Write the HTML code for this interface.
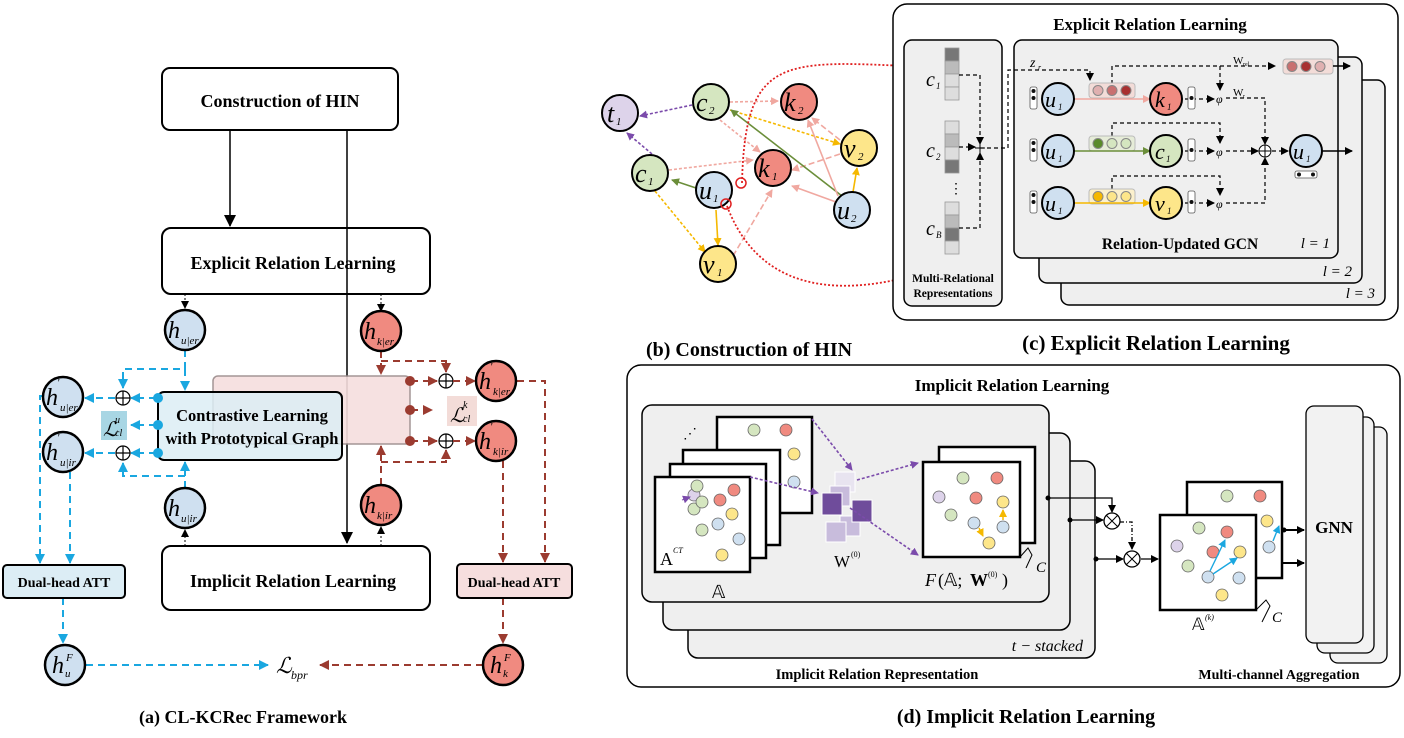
<!DOCTYPE html>
<html><head><meta charset="utf-8"><style>
html,body{margin:0;padding:0;background:#fff}
svg{display:block}
text{font-family:"Liberation Serif",serif}
.b{font-weight:bold}
.m{font-style:italic}
</style></head><body>
<svg width="1404" height="738" viewBox="0 0 1404 738" xmlns="http://www.w3.org/2000/svg">
<defs>
<marker id="ak" markerWidth="8" markerHeight="8" refX="7" refY="4" orient="auto" markerUnits="userSpaceOnUse"><path d="M0,0 L8,4 L0,8 z" fill="#000"/></marker>
<marker id="akl" markerWidth="12" markerHeight="12" refX="11" refY="6" orient="auto" markerUnits="userSpaceOnUse"><path d="M0,0 L12,6 L0,12 z" fill="#000"/></marker>
<marker id="ab" markerWidth="10" markerHeight="10" refX="9" refY="5" orient="auto" markerUnits="userSpaceOnUse"><path d="M0,0 L10,5 L0,10 z" fill="#1aa7e0"/></marker>
<marker id="ar" markerWidth="10" markerHeight="10" refX="9" refY="5" orient="auto" markerUnits="userSpaceOnUse"><path d="M0,0 L10,5 L0,10 z" fill="#9b3b30"/></marker>
<marker id="ap" markerWidth="8" markerHeight="8" refX="7" refY="4" orient="auto" markerUnits="userSpaceOnUse"><path d="M0,0 L8,4 L0,8 z" fill="#7b4bab"/></marker>
<marker id="apk" markerWidth="8" markerHeight="8" refX="7" refY="4" orient="auto" markerUnits="userSpaceOnUse"><path d="M0,0 L8,4 L0,8 z" fill="#f0a8a0"/></marker>
<marker id="ay" markerWidth="8" markerHeight="8" refX="7" refY="4" orient="auto" markerUnits="userSpaceOnUse"><path d="M0,0 L8,4 L0,8 z" fill="#f5b800"/></marker>
<marker id="ag" markerWidth="8" markerHeight="8" refX="7" refY="4" orient="auto" markerUnits="userSpaceOnUse"><path d="M0,0 L8,4 L0,8 z" fill="#6b8e3a"/></marker>
<marker id="acy" markerWidth="8" markerHeight="8" refX="7" refY="4" orient="auto" markerUnits="userSpaceOnUse"><path d="M0,0 L8,4 L0,8 z" fill="#1aa7e0"/></marker>
</defs>

<!-- ============ Panel (a) ============ -->
<line x1="347" y1="130" x2="347" y2="543" stroke="#000" stroke-width="1.5" marker-end="url(#akl)"/>
<line x1="230" y1="130" x2="230" y2="226" stroke="#000" stroke-width="1.5" marker-end="url(#akl)"/>
<rect x="162" y="68" width="236" height="62" rx="8" fill="#fff" stroke="#000" stroke-width="2"/>
<text x="280" y="107" text-anchor="middle" class="b" font-size="18">Construction of HIN</text>
<rect x="162" y="228" width="268" height="66" rx="9" fill="none" stroke="#000" stroke-width="2"/>
<text x="293" y="269" text-anchor="middle" class="b" font-size="18">Explicit Relation Learning</text>
<rect x="162" y="546" width="268" height="64" rx="9" fill="none" stroke="#000" stroke-width="2"/>
<text x="293" y="587" text-anchor="middle" class="b" font-size="18">Implicit Relation Learning</text>

<line x1="185" y1="294" x2="185" y2="308" stroke="#000" stroke-dasharray="2,2" marker-end="url(#ak)"/>
<line x1="381" y1="294" x2="381" y2="311" stroke="#000" stroke-dasharray="2,2" marker-end="url(#ak)"/>
<line x1="185" y1="546" x2="185" y2="530" stroke="#000" stroke-dasharray="2,2" marker-end="url(#ak)"/>
<line x1="381" y1="546" x2="381" y2="527" stroke="#000" stroke-dasharray="2,2" marker-end="url(#ak)"/>

<rect x="213" y="376" width="197" height="68" rx="5" fill="#f6dede" stroke="#9a8a8a" stroke-width="1.5" opacity="0.9"/>
<rect x="158" y="392" width="184" height="68" rx="6" fill="#dcedf5" fill-opacity="0.85" stroke="#000" stroke-width="2"/>
<text x="252" y="421" text-anchor="middle" class="b" font-size="16.5">Contrastive Learning</text>
<text x="252" y="444" text-anchor="middle" class="b" font-size="16.5">with Prototypical Graph</text>

<g stroke="#1aa7e0" stroke-width="2" fill="none" stroke-dasharray="7,5">
<path d="M185,350 V369 H123 V388" marker-end="url(#ab)"/>
<path d="M185,369 V390" marker-end="url(#ab)"/>
<path d="M185,488 V462" marker-end="url(#ab)"/>
<path d="M185,476 H123 V463" marker-end="url(#ab)"/>
<path d="M156,398 H131" marker-end="url(#ab)"/>
<path d="M156,425 H131" marker-end="url(#ab)"/>
<path d="M156,453 H131" marker-end="url(#ab)"/>
<path d="M115,398 H85" marker-end="url(#ab)"/>
<path d="M115,453 H85" marker-end="url(#ab)"/>
<path d="M43,396 H40 V563" marker-end="url(#ab)"/>
<path d="M70,472 V563" marker-end="url(#ab)"/>
<path d="M63,598 V643" marker-end="url(#ab)"/>
<path d="M86,665 H268" marker-end="url(#ab)"/>
</g>
<g fill="#1aa7e0"><circle cx="158" cy="398" r="5"/><circle cx="158" cy="425" r="5"/><circle cx="158" cy="453" r="5"/></g>
<g fill="#fff" stroke="#000" stroke-width="1.2">
<circle cx="123" cy="398" r="7"/><circle cx="123" cy="453" r="7"/>
<circle cx="446" cy="381" r="7"/><circle cx="446" cy="441" r="7"/></g>
<g stroke="#000" stroke-width="1.2">
<path d="M116,398H130M123,391V405M116,453H130M123,446V460M439,381H453M446,374V388M439,441H453M446,434V448"/></g>
<rect x="101" y="411" width="26" height="29" fill="#a8d6e4"/>
<text x="103" y="436" class="m" font-size="20">ℒ</text><text x="115" y="423" class="m" font-size="10">u</text><text x="115" y="436" class="m" font-size="10">cl</text>

<g stroke="#9b3b30" stroke-width="2" fill="none" stroke-dasharray="7,5">
<path d="M381,351 V374" marker-end="url(#ar)"/>
<path d="M381,361 H446 V372" marker-end="url(#ar)"/>
<path d="M381,485 V446" marker-end="url(#ar)"/>
<path d="M381,462 H446 V450" marker-end="url(#ar)"/>
<path d="M411,381 H437" marker-end="url(#ar)"/>
<path d="M411,410 H432" marker-end="url(#ar)"/>
<path d="M411,441 H437" marker-end="url(#ar)"/>
<path d="M453,381 H475" marker-end="url(#ar)"/>
<path d="M453,441 H475" marker-end="url(#ar)"/>
<path d="M517,381 H545 V562" marker-end="url(#ar)"/>
<path d="M503,461 V562" marker-end="url(#ar)"/>
<path d="M503,598 V643" marker-end="url(#ar)"/>
<path d="M483,665 H320" marker-end="url(#ar)"/>
</g>
<g fill="#9b3b30"><circle cx="410" cy="381" r="5"/><circle cx="410" cy="410" r="5"/><circle cx="410" cy="441" r="5"/></g>
<rect x="447" y="396" width="30" height="30" fill="#f3dcd8"/>
<text x="450" y="422" class="m" font-size="20">ℒ</text><text x="463" y="408" class="m" font-size="10">k</text><text x="463" y="422" class="m" font-size="10">cl</text>

<g stroke="#000" stroke-width="2.5">
<circle cx="185" cy="330" r="20" fill="#cfe0f0"/>
<circle cx="381" cy="331" r="20" fill="#f08a80"/>
<circle cx="63" cy="397" r="20" fill="#cfe0f0"/>
<circle cx="63" cy="452" r="20" fill="#cfe0f0"/>
<circle cx="185" cy="508" r="20" fill="#cfe0f0"/>
<circle cx="381" cy="505" r="20" fill="#f08a80"/>
<circle cx="496" cy="381" r="20" fill="#f08a80"/>
<circle cx="496" cy="441" r="20" fill="#f08a80"/>
<circle cx="65" cy="665" r="20" fill="#cfe0f0"/>
<circle cx="503" cy="665" r="20" fill="#f08a80"/>
</g>
<g class="m" font-size="24">
<text x="168" y="338">h</text><text x="181" y="344" font-size="11">u|er</text>
<text x="364" y="339">h</text><text x="377" y="345" font-size="11">k|er</text>
<text x="46" y="405">h</text><text x="57" y="386" font-size="11">'</text><text x="60" y="411" font-size="11">u|er</text>
<text x="46" y="460">h</text><text x="57" y="441" font-size="11">'</text><text x="60" y="466" font-size="11">u|ir</text>
<text x="168" y="516">h</text><text x="181" y="522" font-size="11">u|ir</text>
<text x="364" y="513">h</text><text x="377" y="519" font-size="11">k|ir</text>
<text x="479" y="389">h</text><text x="490" y="370" font-size="11">'</text><text x="493" y="395" font-size="11">k|er</text>
<text x="479" y="449">h</text><text x="490" y="430" font-size="11">'</text><text x="493" y="455" font-size="11">k|ir</text>
<text x="52" y="673">h</text><text x="66" y="661" font-size="11">F</text><text x="65" y="677" font-size="11">u</text>
<text x="490" y="673">h</text><text x="504" y="661" font-size="11">F</text><text x="503" y="677" font-size="11">k</text>
</g>
<text x="276" y="673" class="m" font-size="22">ℒ</text><text x="291" y="679" class="m" font-size="12">bpr</text>

<rect x="3" y="565" width="122" height="33" rx="4" fill="#dcedf5" stroke="#000" stroke-width="2"/>
<text x="64" y="587" text-anchor="middle" class="b" font-size="14">Dual-head ATT</text>
<rect x="457" y="564" width="115" height="34" rx="4" fill="#f6dede" stroke="#000" stroke-width="2"/>
<text x="514" y="587" text-anchor="middle" class="b" font-size="14">Dual-head ATT</text>
<text x="243" y="723" text-anchor="middle" class="b" font-size="18">(a) CL-KCRec Framework</text>

<!-- ============ Panel (b) ============ -->
<g fill="none" stroke-width="1.6">
<path d="M692,105 L640,116" stroke="#7b4bab" stroke-dasharray="3,2" marker-end="url(#ap)"/>
<path d="M652,154 L627,133" stroke="#7b4bab" stroke-dasharray="3,2" marker-end="url(#ap)"/>
<path d="M730,102 L778,101" stroke="#f0a8a0" stroke-dasharray="3,2" marker-end="url(#apk)"/>
<path d="M730,110 L840,144" stroke="#f5b800" stroke-dasharray="3,2" marker-end="url(#ay)"/>
<path d="M720,120 L760,152" stroke="#f0a8a0" stroke-dasharray="3,2" marker-end="url(#apk)"/>
<path d="M669,170 L753,160" stroke="#f0a8a0" stroke-dasharray="3,2" marker-end="url(#apk)"/>
<path d="M655,191 L705,252" stroke="#f5b800" stroke-dasharray="3,2" marker-end="url(#ay)"/>
<path d="M840,140 L812,118" stroke="#f0a8a0" stroke-dasharray="6,3" marker-end="url(#apk)"/>
<path d="M840,154 L792,170" stroke="#f0a8a0" stroke-dasharray="6,3" marker-end="url(#apk)"/>
<path d="M733,256 L772,190" stroke="#f0a8a0" stroke-dasharray="6,3" marker-end="url(#apk)"/>
<path d="M842,196 L731,110" stroke="#6b8e3a" marker-end="url(#ag)"/>
<path d="M696,188 L672,180" stroke="#6b8e3a" marker-end="url(#ag)"/>
<path d="M836,202 L792,186" stroke="#f0a8a0" marker-end="url(#apk)"/>
<path d="M838,196 L808,120" stroke="#f0a8a0" marker-end="url(#apk)"/>
<path d="M853,192 L857,168" stroke="#f5b800" marker-end="url(#ay)"/>
<path d="M716,210 L718,245" stroke="#f5b800" marker-end="url(#ay)"/>
</g>
<g stroke="#000" stroke-width="2">
<circle cx="620" cy="113" r="18" fill="#ddd3ea"/>
<circle cx="711" cy="102" r="18" fill="#d5e6c0"/>
<circle cx="799" cy="102" r="18" fill="#f08a80"/>
<circle cx="859" cy="148" r="18" fill="#fde68a"/>
<circle cx="773" cy="168" r="18" fill="#f08a80"/>
<circle cx="650" cy="173" r="18" fill="#d5e6c0"/>
<circle cx="714" cy="190" r="18" fill="#cfe0f0"/>
<circle cx="852" cy="210" r="18" fill="#cfe0f0"/>
<circle cx="718" cy="264" r="18" fill="#fde68a"/>
</g>
<g class="m" font-size="26">
<text x="607" y="122">t</text><text x="616" y="125" font-size="11">1</text>
<text x="696" y="111">c</text><text x="709" y="114" font-size="11">2</text>
<text x="784" y="111">k</text><text x="798" y="114" font-size="11">2</text>
<text x="844" y="157">v</text><text x="858" y="160" font-size="11">2</text>
<text x="758" y="177">k</text><text x="772" y="180" font-size="11">1</text>
<text x="635" y="182">c</text><text x="648" y="185" font-size="11">1</text>
<text x="699" y="199">u</text><text x="713" y="202" font-size="11">1</text>
<text x="837" y="219">u</text><text x="851" y="222" font-size="11">2</text>
<text x="703" y="273">v</text><text x="717" y="276" font-size="11">1</text>
</g>
<g fill="none" stroke="#e02020" stroke-width="1.8" stroke-dasharray="2,2">
<path d="M742,183 C745,60 780,60 905,66"/>
<path d="M727,206 C770,320 900,300 1042,220"/>
</g>
<circle cx="741" cy="183" r="5" fill="none" stroke="#e02020" stroke-width="1.5"/>
<circle cx="726" cy="204" r="5" fill="none" stroke="#e02020" stroke-width="1.5"/>
<text x="749" y="356" text-anchor="middle" class="b" font-size="20">(b) Construction of HIN</text>

<!-- ============ Panel (c) ============ -->
<rect x="893" y="4" width="505" height="316" rx="14" fill="#fff" stroke="#000" stroke-width="1.5"/>
<text x="1150" y="30" text-anchor="middle" class="b" font-size="17">Explicit Relation Learning</text>
<rect x="904" y="40" width="98" height="266" rx="8" fill="#efefef" stroke="#000" stroke-width="1.5"/>
<rect x="1061" y="80" width="324" height="225" rx="8" fill="#efefef" stroke="#000" stroke-width="1.5"/>
<rect x="1039" y="57" width="323" height="226" rx="8" fill="#efefef" stroke="#000" stroke-width="1.5"/>
<rect x="1014" y="40" width="324" height="218" rx="8" fill="#efefef" stroke="#000" stroke-width="1.5"/>
<text x="1375" y="298" text-anchor="end" class="m" font-size="15">l = 3</text>
<text x="1352" y="276" text-anchor="end" class="m" font-size="15">l = 2</text>
<text x="1330" y="248" text-anchor="end" class="m" font-size="15">l = 1</text>
<text x="1180" y="249" text-anchor="middle" class="b" font-size="15.5">Relation-Updated GCN</text>
<text x="953" y="282" text-anchor="middle" class="b" font-size="11.5">Multi-Relational</text>
<text x="953" y="297" text-anchor="middle" class="b" font-size="11.5">Representations</text>
<g stroke="#999" stroke-width="0.8">
<rect x="945" y="48" width="14" height="13" fill="#777"/><rect x="945" y="61" width="14" height="13" fill="#bbb"/><rect x="945" y="74" width="14" height="13" fill="#ddd"/><rect x="945" y="87" width="14" height="13" fill="#ddd"/>
<rect x="945" y="121" width="14" height="13" fill="#ddd"/><rect x="945" y="134" width="14" height="13" fill="#bbb"/><rect x="945" y="147" width="14" height="13" fill="#ddd"/><rect x="945" y="160" width="14" height="13" fill="#777"/>
<rect x="945" y="202" width="14" height="13" fill="#ddd"/><rect x="945" y="215" width="14" height="13" fill="#bbb"/><rect x="945" y="228" width="14" height="13" fill="#777"/><rect x="945" y="241" width="14" height="13" fill="#ddd"/>
</g>
<g class="m" font-size="20"><text x="926" y="86">c</text><text x="936" y="89" font-size="9">1</text>
<text x="926" y="157">c</text><text x="936" y="160" font-size="9">2</text>
<text x="926" y="235">c</text><text x="936" y="238" font-size="9">B</text></g>
<text x="949" y="193" font-size="14">⋮</text>
<g fill="none" stroke="#000" stroke-width="1.2" stroke-dasharray="4,3">
<path d="M959,75 H980 V144" marker-end="url(#ak)"/>
<path d="M959,228 H980 V153" marker-end="url(#ak)"/>
<path d="M959,147 H975" marker-end="url(#ak)"/>
<path d="M980,148 H1008 V70 H1090 V80" marker-end="url(#ak)"/>
<path d="M1112,84 V66 H1275" marker-end="url(#ak)"/>
<path d="M1220,66 V90" marker-end="url(#ak)"/>
<path d="M1112,136 V123 H1220 V143" marker-end="url(#ak)"/>
<path d="M1112,189 V176 H1220 V195" marker-end="url(#ak)"/>
<path d="M1185,99 H1214" marker-end="url(#ak)"/>
<path d="M1185,151 H1214" marker-end="url(#ak)"/>
<path d="M1185,203 H1214" marker-end="url(#ak)"/>
<path d="M1226,98 H1265 V144" marker-end="url(#ak)"/>
<path d="M1226,151 H1258" marker-end="url(#ak)"/>
<path d="M1226,203 H1265 V158" marker-end="url(#ak)"/>
<path d="M1272,151 H1288" marker-end="url(#ak)"/>
</g>
<line x1="975" y1="148" x2="985" y2="148" stroke="#000"/><line x1="980" y1="143" x2="980" y2="153" stroke="#000"/>
<text x="1030" y="67" class="m" font-size="14">z</text><text x="1038" y="70" class="m" font-size="8">r</text>
<text x="1233" y="64" font-size="11">W</text><text x="1243" y="66" font-size="6">rel</text>
<text x="1233" y="96" font-size="11">W</text><text x="1243" y="98" font-size="6">r</text>
<circle cx="1265" cy="151" r="6" fill="#fff" stroke="#000"/><path d="M1259,151H1271M1265,145V157" stroke="#000"/>
<g class="m" font-size="12"><text x="1216" y="103">φ</text><text x="1216" y="156">φ</text><text x="1216" y="208">φ</text></g>
<rect x="1089" y="83" width="46" height="15" rx="3" fill="#f3dcd8" stroke="#bbb"/>
<circle cx="1098" cy="90.5" r="5" fill="#e0b0b0" stroke="#888"/><circle cx="1112" cy="90.5" r="5" fill="#c97070" stroke="#888"/><circle cx="1126" cy="90.5" r="5" fill="#a83030" stroke="#888"/>
<rect x="1089" y="136" width="46" height="15" rx="3" fill="#e6ecd8" stroke="#bbb"/>
<circle cx="1098" cy="143.5" r="5" fill="#5a8a2a" stroke="#888"/><circle cx="1112" cy="143.5" r="5" fill="#d5e6c0" stroke="#888"/><circle cx="1126" cy="143.5" r="5" fill="#d5e6c0" stroke="#888"/>
<rect x="1089" y="189" width="46" height="15" rx="3" fill="#fbf0cc" stroke="#bbb"/>
<circle cx="1098" cy="196.5" r="5" fill="#f5b800" stroke="#888"/><circle cx="1112" cy="196.5" r="5" fill="#fde68a" stroke="#888"/><circle cx="1126" cy="196.5" r="5" fill="#fde68a" stroke="#888"/>
<rect x="1283" y="59" width="50" height="15" rx="3" fill="#f3dcd8" stroke="#bbb"/>
<circle cx="1292" cy="66.5" r="5" fill="#c97070" stroke="#888"/><circle cx="1306" cy="66.5" r="5" fill="#a83030" stroke="#888"/><circle cx="1320" cy="66.5" r="5" fill="#e0b0b0" stroke="#888"/>
<line x1="1333" y1="66" x2="1350" y2="66" stroke="#000" stroke-width="1.5" marker-end="url(#ak)"/>
<line x1="1322" y1="151" x2="1352" y2="151" stroke="#000" stroke-width="1.5" marker-end="url(#ak)"/>
<g stroke="#000" stroke-width="1.5"><line x1="1074" y1="99" x2="1150" y2="99" stroke="#f0a8a0" marker-end="url(#apk)"/>
<line x1="1074" y1="151" x2="1150" y2="151" stroke="#6b8e3a" marker-end="url(#ag)"/>
<line x1="1074" y1="203" x2="1150" y2="203" stroke="#f5b800" marker-end="url(#ay)"/></g>
<g stroke="#000" stroke-width="2">
<circle cx="1058" cy="99" r="16" fill="#cfe0f0"/><circle cx="1058" cy="151" r="16" fill="#cfe0f0"/><circle cx="1058" cy="203" r="16" fill="#cfe0f0"/>
<circle cx="1166" cy="99" r="16" fill="#f08a80"/><circle cx="1166" cy="151" r="16" fill="#d5e6c0"/><circle cx="1166" cy="203" r="16" fill="#fde68a"/>
<circle cx="1306" cy="151" r="16" fill="#cfe0f0"/></g>
<g class="m" font-size="22">
<text x="1045" y="107">u</text><text x="1058" y="110" font-size="9">1</text>
<text x="1045" y="159">u</text><text x="1058" y="162" font-size="9">1</text>
<text x="1045" y="211">u</text><text x="1058" y="214" font-size="9">1</text>
<text x="1155" y="107">k</text><text x="1167" y="110" font-size="9">1</text>
<text x="1155" y="159">c</text><text x="1166" y="162" font-size="9">1</text>
<text x="1155" y="211">v</text><text x="1167" y="214" font-size="9">1</text>
<text x="1293" y="159">u</text><text x="1306" y="162" font-size="9">1</text></g>
<g fill="#fff" stroke="#555" stroke-width="0.8">
<rect x="1030" y="87" width="7" height="22" rx="2"/><rect x="1030" y="139" width="7" height="22" rx="2"/><rect x="1030" y="191" width="7" height="22" rx="2"/>
<rect x="1188" y="87" width="7" height="22" rx="2"/><rect x="1188" y="139" width="7" height="22" rx="2"/><rect x="1188" y="191" width="7" height="22" rx="2"/>
<rect x="1295" y="171" width="22" height="7" rx="2"/></g>
<g fill="#111"><circle cx="1033.5" cy="91" r="2"/><circle cx="1033.5" cy="98" r="2"/><circle cx="1033.5" cy="143" r="2"/><circle cx="1033.5" cy="150" r="2"/><circle cx="1033.5" cy="195" r="2"/><circle cx="1033.5" cy="202" r="2"/>
<circle cx="1191.5" cy="98" r="2"/><circle cx="1191.5" cy="150" r="2"/><circle cx="1191.5" cy="202" r="2"/><circle cx="1299" cy="174.5" r="2"/><circle cx="1313" cy="174.5" r="2"/></g>
<text x="1156" y="350" text-anchor="middle" class="b" font-size="21">(c) Explicit Relation Learning</text>

<!-- ============ Panel (d) ============ -->
<rect x="627" y="365" width="773" height="322" rx="14" fill="#fff" stroke="#000" stroke-width="1.5"/>
<text x="1012" y="391" text-anchor="middle" class="b" font-size="17">Implicit Relation Learning</text>
<rect x="688" y="461" width="407" height="197" rx="10" fill="#efefef" stroke="#000" stroke-width="1.5"/>
<rect x="663" y="433" width="407" height="197" rx="10" fill="#efefef" stroke="#000" stroke-width="1.5"/>
<rect x="642" y="405" width="407" height="197" rx="10" fill="#efefef" stroke="#000" stroke-width="1.5"/>
<text x="1083" y="651" text-anchor="end" class="m" font-size="16">t − stacked</text>
<text x="877" y="679" text-anchor="middle" class="b" font-size="14.5">Implicit Relation Representation</text>
<text x="1279" y="679" text-anchor="middle" class="b" font-size="14">Multi-channel Aggregation</text>
<g fill="#fff" stroke="#000" stroke-width="2.5">
<rect x="717" y="417" width="95" height="96"/>
<rect x="683" y="450" width="97" height="95"/>
<rect x="670" y="464" width="96" height="94"/>
<rect x="655" y="477" width="95" height="95"/>
</g>
<text x="683" y="438" font-size="14">⋰</text>
<g stroke="#666" stroke-width="0.8">
<circle cx="754" cy="430" r="6" fill="#d5e6c0"/><circle cx="786" cy="430" r="6" fill="#f08a80"/><circle cx="794" cy="454" r="6" fill="#fde68a"/><circle cx="794" cy="482" r="6" fill="#cfe0f0"/>
<circle cx="694" cy="495" r="6" fill="#ddd3ea"/><circle cx="694" cy="509" r="6" fill="#d5e6c0"/><circle cx="697" cy="486" r="6" fill="#d5e6c0"/>
<circle cx="702" cy="530" r="6" fill="#d5e6c0"/><circle cx="720" cy="500" r="6" fill="#f08a80"/><circle cx="732" cy="514" r="6" fill="#fde68a"/><circle cx="718" cy="524" r="6" fill="#cfe0f0"/><circle cx="739" cy="539" r="6" fill="#cfe0f0"/><circle cx="722" cy="555" r="6" fill="#fde68a"/><circle cx="702" cy="502" r="6" fill="#d5e6c0"/><circle cx="734" cy="490" r="6" fill="#f08a80"/>
</g>
<path d="M682,500 L690,497" stroke="#7b4bab" stroke-dasharray="2,2" marker-end="url(#ap)"/>
<text x="660" y="565" font-size="18">A</text><text x="673" y="553" class="m" font-size="8">CT</text>
<text x="712" y="598" font-size="18">𝔸</text>
<g stroke="#fff" stroke-width="1">
<rect x="835" y="472" width="20" height="20" fill="#e8e4f0"/>
<rect x="830" y="486" width="20" height="20" fill="#c8bcdc"/>
<rect x="840" y="516" width="20" height="20" fill="#c8bcdc"/>
<rect x="826" y="522" width="20" height="20" fill="#c8bcdc"/>
<rect x="822" y="493" width="20" height="22" fill="#6f4c9b"/>
<rect x="852" y="500" width="20" height="22" fill="#6f4c9b"/>
</g>
<text x="834" y="567" font-size="17">W</text><text x="851" y="557" font-size="8">(0)</text>
<g fill="none" stroke="#7b4bab" stroke-width="1.6" stroke-dasharray="3,2">
<path d="M812,419 L852,470" marker-end="url(#ap)"/>
<path d="M750,477 L818,493" marker-end="url(#ap)"/>
<path d="M857,480 L918,463" marker-end="url(#ap)"/>
<path d="M850,508 L918,555" marker-end="url(#ap)"/>
</g>
<g fill="#fff" stroke="#000" stroke-width="2.5">
<rect x="939" y="447" width="96" height="96"/>
<rect x="923" y="462" width="97" height="95"/></g>
<g stroke="#666" stroke-width="0.8">
<circle cx="963" cy="478" r="6" fill="#d5e6c0"/><circle cx="997" cy="478" r="6" fill="#f08a80"/><circle cx="939" cy="497" r="6" fill="#ddd3ea"/><circle cx="976" cy="498" r="6" fill="#f08a80"/><circle cx="1003" cy="502" r="6" fill="#fde68a"/><circle cx="951" cy="515" r="6" fill="#d5e6c0"/><circle cx="974" cy="523" r="6" fill="#cfe0f0"/><circle cx="1003" cy="527" r="6" fill="#cfe0f0"/><circle cx="989" cy="543" r="6" fill="#fde68a"/></g>
<path d="M979,528 L983,536" stroke="#f5b800" stroke-width="1.5" marker-end="url(#ay)"/>
<path d="M1003,520 L1003,510" stroke="#f5b800" stroke-width="1.5" marker-end="url(#ay)"/>
<path d="M1020,557 L1028,548 L1032,555 L1026,568" fill="none" stroke="#000"/>
<text x="1036" y="572" class="m" font-size="15">C</text>
<text x="925" y="586" class="m" font-size="18">F</text><text x="938" y="586" font-size="18">(𝔸;</text><text x="970" y="586" font-size="18" class="b">W</text><text x="988" y="577" font-size="8">(0)</text><text x="1002" y="586" font-size="18">)</text>
<g fill="none" stroke="#000" stroke-width="1.3">
<path d="M1048,498 H1112 V512" marker-end="url(#ak)"/>
<path d="M1070,520 H1103" marker-end="url(#ak)"/>
<path d="M1096,559 H1123" marker-end="url(#ak)"/>
<path d="M1120,522 H1132 V549" stroke-dasharray="4,2,1,2" marker-end="url(#ak)"/>
<path d="M1141,559 H1158" marker-end="url(#ak)"/>
<path d="M1284,530 H1304" stroke-width="2" marker-end="url(#ak)"/>
<path d="M1266,563 H1304" stroke-width="2" marker-end="url(#ak)"/>
</g>
<g fill="#000"><circle cx="1048" cy="498" r="2.5"/><circle cx="1070" cy="520" r="2.5"/><circle cx="1096" cy="559" r="2.5"/><circle cx="1284" cy="530" r="2.5"/></g>
<g fill="#fff" stroke="#000" stroke-width="1.3"><circle cx="1112" cy="521" r="8"/><circle cx="1132" cy="559" r="8"/></g>
<path d="M1106,515L1118,527M1118,515L1106,527M1126,553L1138,565M1138,553L1126,565" stroke="#000"/>
<g fill="#fff" stroke="#000" stroke-width="2.5">
<rect x="1187" y="482" width="95" height="96"/>
<rect x="1160" y="515" width="96" height="95"/></g>
<g stroke="#666" stroke-width="0.8">
<circle cx="1227" cy="496" r="6" fill="#d5e6c0"/><circle cx="1260" cy="496" r="6" fill="#f08a80"/><circle cx="1267" cy="521" r="6" fill="#fde68a"/><circle cx="1269" cy="547" r="6" fill="#cfe0f0"/>
<circle cx="1199" cy="528" r="6" fill="#d5e6c0"/><circle cx="1227" cy="532" r="6" fill="#f08a80"/><circle cx="1177" cy="546" r="6" fill="#ddd3ea"/><circle cx="1213" cy="552" r="6" fill="#f08a80"/><circle cx="1240" cy="552" r="6" fill="#fde68a"/><circle cx="1188" cy="566" r="6" fill="#d5e6c0"/><circle cx="1208" cy="577" r="6" fill="#cfe0f0"/><circle cx="1239" cy="578" r="6" fill="#cfe0f0"/><circle cx="1222" cy="595" r="6" fill="#fde68a"/></g>
<g stroke="#1aa7e0" stroke-width="1.4"><path d="M1210,571 L1225,540" marker-end="url(#acy)"/><path d="M1213,574 L1237,558" marker-end="url(#acy)"/><path d="M1273,541 L1279,526" marker-end="url(#acy)"/></g>
<path d="M1256,610 L1266,600 L1270,606 L1262,622" fill="none" stroke="#000"/>
<text x="1272" y="622" class="m" font-size="15">C</text>
<text x="1192" y="630" font-size="17">𝔸</text><text x="1205" y="620" class="m" font-size="8">(k)</text>
<rect x="1330" y="427" width="57" height="236" rx="8" fill="#f2f2f2" stroke="#000" stroke-width="1.3"/>
<rect x="1317" y="417" width="57" height="236" rx="8" fill="#f2f2f2" stroke="#000" stroke-width="1.3"/>
<rect x="1306" y="406" width="57" height="237" rx="8" fill="#f2f2f2" stroke="#000" stroke-width="1.3"/>
<text x="1334" y="533" text-anchor="middle" class="b" font-size="17">GNN</text>
<text x="1026" y="723" text-anchor="middle" class="b" font-size="20">(d) Implicit Relation Learning</text>
</svg>
</body></html>
